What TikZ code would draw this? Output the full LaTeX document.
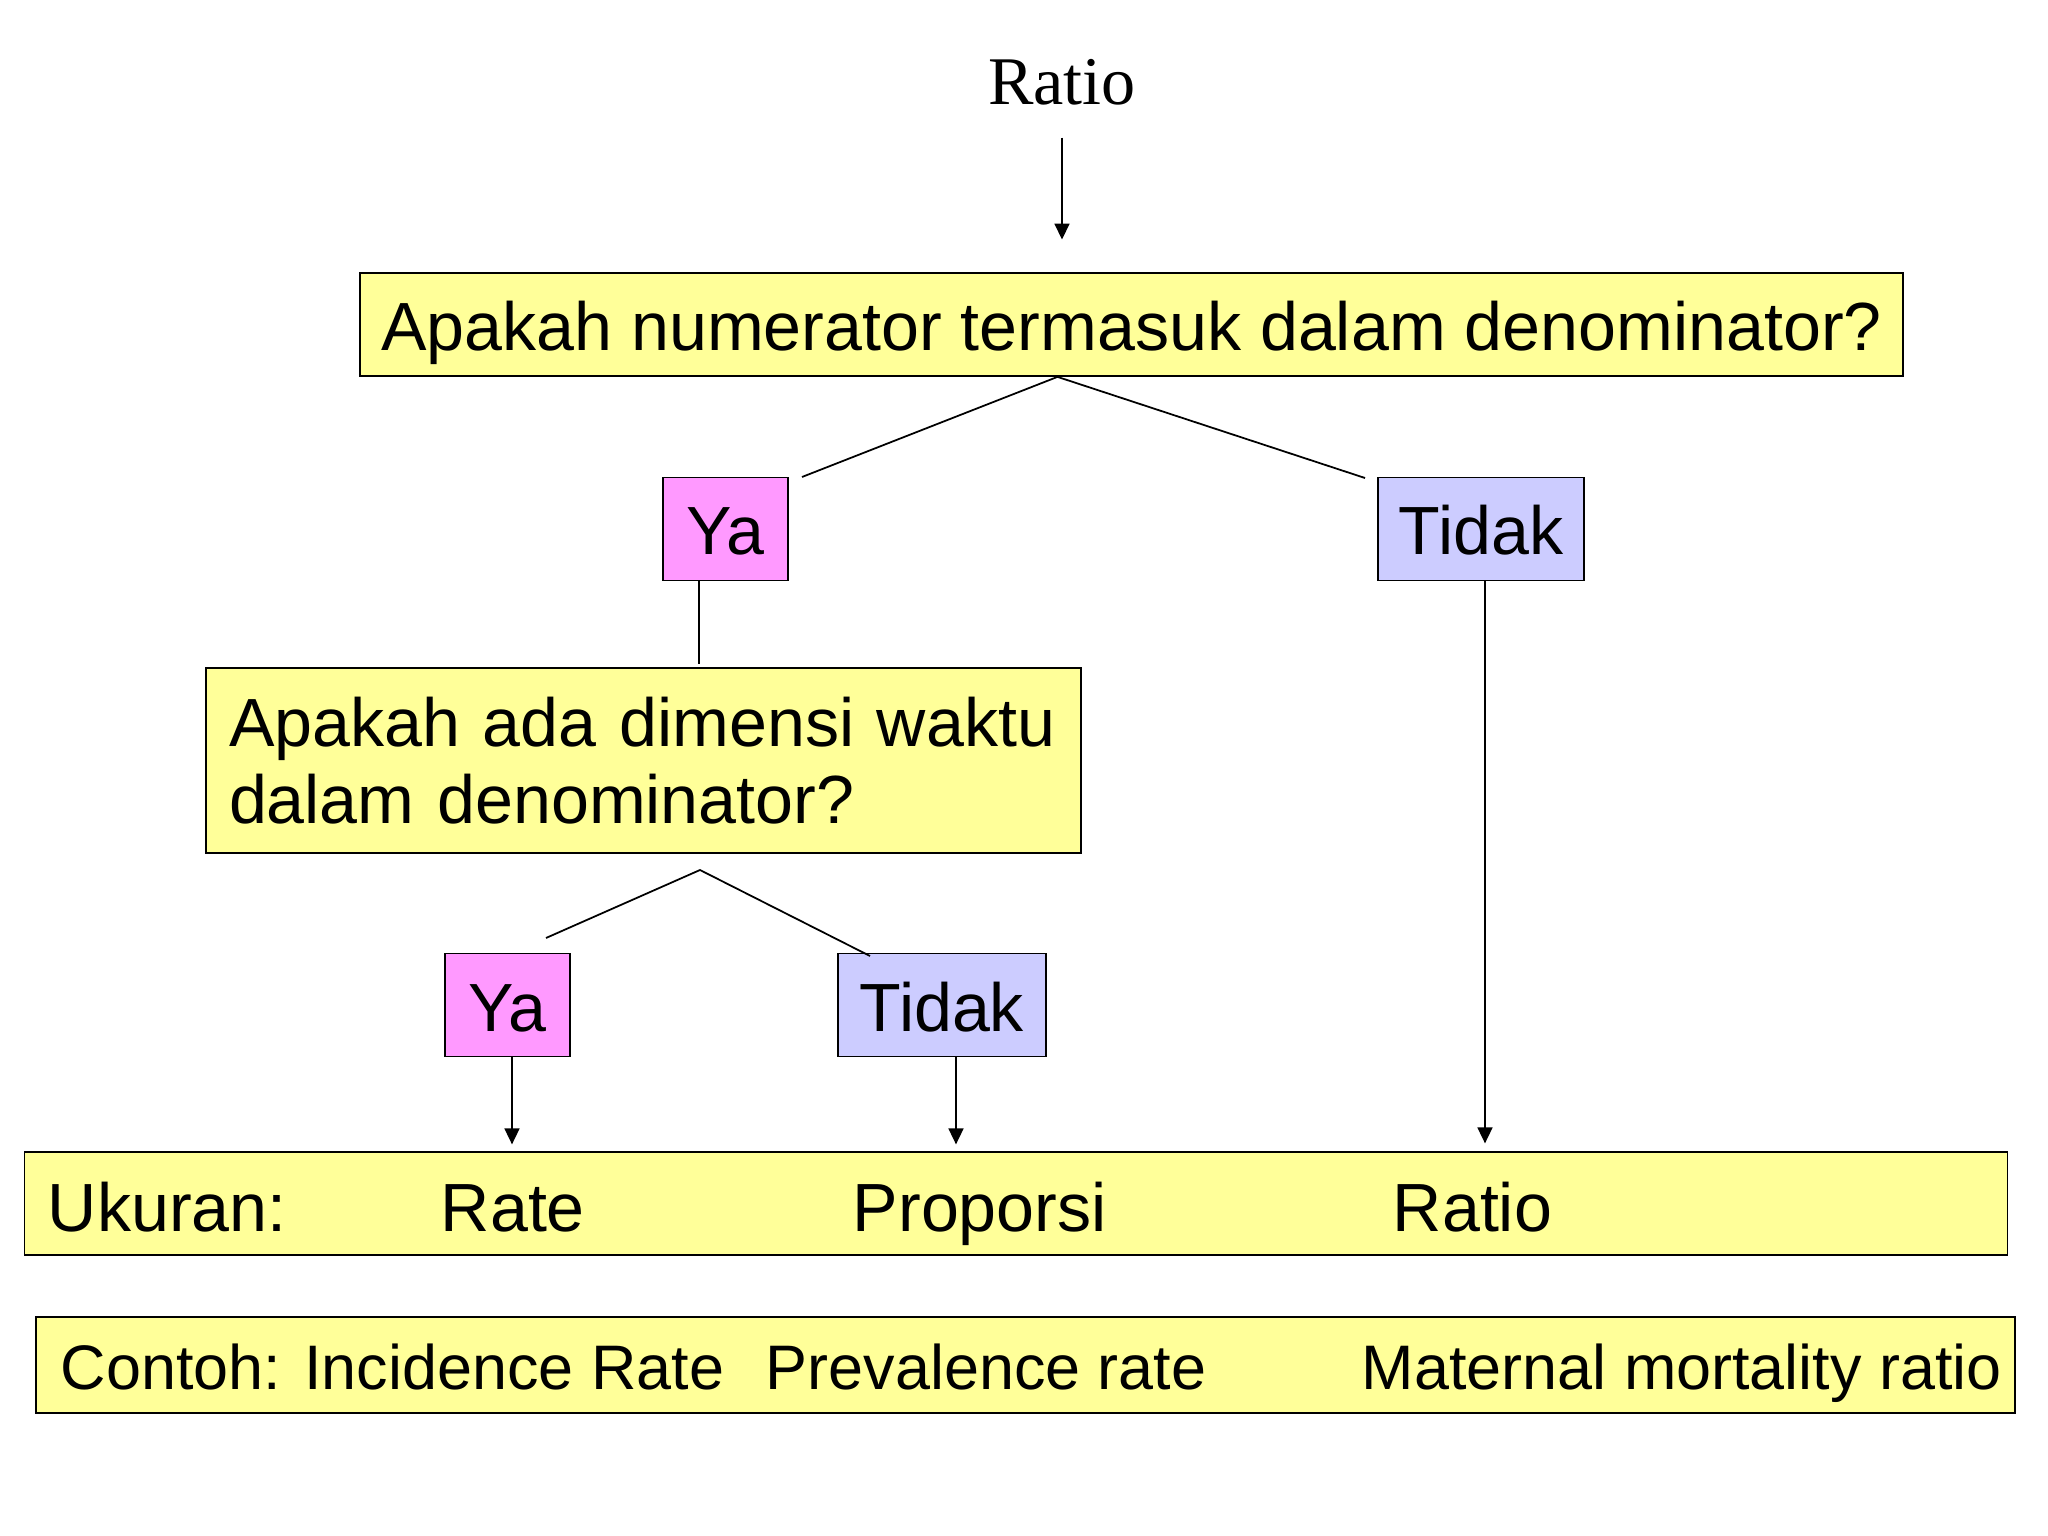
\documentclass[tikz,border=0pt]{standalone}
\usepackage{fontspec}
\setmainfont{Liberation Sans}
\newfontfamily\titlefont{Liberation Serif}
\usepackage{xcolor}
\usetikzlibrary{arrows.meta}

\definecolor{boxyellow}{HTML}{FFFF99}
\definecolor{yapink}{HTML}{FF99FF}
\definecolor{tidakblue}{HTML}{CCCCFF}

\begin{document}
\begin{tikzpicture}[>={Triangle[length=0.16cm,width=0.15cm]}, line width=0.5pt,
  box/.style={draw, inner sep=0pt, text height=0.6cm, text depth=0.08cm,
    font=\fontsize{19.4}{22.1}\selectfont},
  rowtext/.style={anchor=base west, inner sep=0pt, font=\fontsize{19.4}{22.1}\selectfont}]
\useasboundingbox (0,0) rectangle (20.48,-15.36);

\node[inner sep=0.31cm, anchor=base, font=\titlefont\fontsize{19.4}{22.1}\selectfont] (title) at (10.62,-1.05) {Ratio};
\draw[->] (title.south) -- ++(0,-1.02);

% first question
\node[box, fill=boxyellow, minimum width=15.43cm, minimum height=1.03cm] (q1) at (11.315,-3.245)
  {Apakah numerator termasuk dalam denominator?};
\node[box, fill=yapink, minimum width=1.25cm, minimum height=1.03cm] (ya1) at (7.255,-5.29) {Ya};
\node[box, fill=tidakblue, minimum width=2.06cm, minimum height=1.03cm] (tidak1) at (14.81,-5.29) {Tidak};

\coordinate (fork1) at ([xshift=-0.74cm]q1.south);
\coordinate (ya1end) at (8.02,-4.77);
\coordinate (tidak1end) at (13.65,-4.78);
\draw (ya1end) -- (fork1) -- (tidak1end);

% second question
\node[draw, fill=boxyellow, inner xsep=0.23cm, inner ysep=0pt, text width=8.29cm, align=left,
  minimum height=1.85cm, font=\fontsize{19.4}{22.1}\selectfont] (q2) at (6.435,-7.605)
  {Apakah ada dimensi waktu\\dalam denominator?};
\draw ([xshift=-0.265cm]ya1.south) -- ([xshift=-0.265cm,yshift=0.03cm]ya1.south |- q2.north);

\node[box, fill=yapink, minimum width=1.25cm, minimum height=1.03cm] (ya2) at (5.075,-10.05) {Ya};
\node[box, fill=tidakblue, minimum width=2.08cm, minimum height=1.03cm] (tidak2) at (9.42,-10.05) {Tidak};

\coordinate (fork2) at (7.00,-8.70);
\coordinate (ya2end) at (5.46,-9.38);
\coordinate (tidak2end) at (8.70,-9.56);
\draw (ya2end) -- (fork2) -- (tidak2end);

% arrows down to the measures
\draw[->] ([xshift=0.045cm]ya2.south) -- ++(0,-0.87);
\draw[->] ([xshift=0.14cm]tidak2.south) -- ++(0,-0.87);
\draw[->] ([xshift=0.04cm]tidak1.south) -- ++(0,-5.62);

% measures and examples
\node[draw, fill=boxyellow, minimum width=19.83cm, minimum height=1.03cm, inner sep=0pt] (ukuran) at (10.16,-12.035) {};
\node[rowtext] (ukuranlabel) at (0.47,-12.31) {Ukuran:};
\node[rowtext] (rate) at (4.40,-12.31) {Rate};
\node[rowtext] (proporsi) at (8.52,-12.31) {Proporsi};
\node[rowtext] (ratio) at (13.92,-12.31) {Ratio};

\node[draw, fill=boxyellow, minimum width=19.79cm, minimum height=0.96cm, inner sep=0pt] (contoh) at (10.255,-13.65) {};
\node[rowtext, font=\fontsize{17.9}{20.4}\selectfont] (incidence) at (0.60,-13.89) {Contoh: Incidence Rate};
\node[rowtext, font=\fontsize{17.9}{20.4}\selectfont] (prevalence) at (7.65,-13.89) {Prevalence rate};
\node[rowtext, font=\fontsize{17.9}{20.4}\selectfont] (maternal) at (13.61,-13.89) {Maternal mortality ratio};
\end{tikzpicture}
\end{document}
